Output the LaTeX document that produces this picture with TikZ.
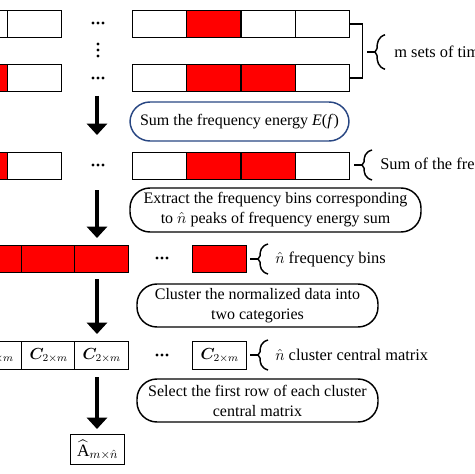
\documentclass[tikz,border=0pt]{standalone}
\usepackage{amsmath,amssymb,bm}
\usepackage{fontspec}
\setmainfont{Liberation Serif}
\usetikzlibrary{arrows.meta}
\definecolor{boxblue}{RGB}{40,70,130}
\definecolor{cellred}{RGB}{255,0,0}
\begin{document}
\begin{tikzpicture}[x=0.75pt,y=-0.75pt,
  cell/.style={draw=black,line width=1.1pt,minimum width=40.5pt,minimum height=20.25pt,inner sep=0pt,anchor=north west,font=\fontsize{12}{12}\selectfont},
  on/.style={cell,fill=cellred},
  off/.style={cell,fill=white},
  flowbox/.style={draw=black,line width=1.1pt,rounded corners=15pt,align=center,inner sep=0pt,font=\fontsize{12}{15}\selectfont},
  bigarrow/.style={line width=2.6pt,-{Triangle[width=15pt,length=8.5pt]}},
  lbl/.style={anchor=west,inner sep=0pt,font=\fontsize{12.3}{14}\selectfont},
  brk/.pic={\draw[line width=1.1pt] (0,0) -- (8,0);
            \draw[line width=1.1pt] (18,-15) .. controls (11,-13) and (10,-8) .. (10,-3) -- (8,0) -- (10,3) .. controls (10,8) and (11,13) .. (18,15);},
  hdots/.pic={\foreach \i in {-5,0,5} \fill (\i,0) circle[radius=1.6];},
  vdots/.pic={\foreach \i in {-6,0,6} \fill (0,\i) circle[radius=1.6];}
]
\useasboundingbox (0,0) rectangle (474,474);
\clip (0,0) rectangle (474,474);

% row 1
\node[off] (r1a) at (-47,10) {};
\node[off] (r1b) at (7,10) {};
\node[off] (r1c) at (132,10) {};
\node[on]  (r1d) at (186,10) {};
\node[off] (r1e) at (241,10) {};
\node[off] (r1f) at (295,10) {};
\pic at (98,23) {hdots};
\pic at (98,50) {vdots};

% row 2
\node[on]  (r2a) at (-47,64) {};
\node[off] (r2b) at (7,64) {};
\node[off] (r2c) at (132,64) {};
\node[on]  (r2d) at (186,64) {};
\node[on]  (r2e) at (241,64) {};
\node[off] (r2f) at (295,64) {};
\pic at (98,78) {hdots};

\draw[line width=1.1pt] (r1f.east) -- ++(12,0) |- (r2f.east);
\pic[yscale=1.15] at (367,52) {brk};
\node[lbl] (t1) at (394,52) {m sets of time};

% arrow 1 and sum box
\coordinate (a1s) at (97,96);
\coordinate (a1e) at (97,135);
\draw[bigarrow] (a1s) -- (a1e);
\node[flowbox,draw=boxblue,minimum width=164.25pt,minimum height=29.25pt] (b1) at (239.5,121.5) {Sum the frequency energy \textit{E}(\textit{f})};

% row 3
\node[on]  (r3a) at (-47,152) {};
\node[off] (r3b) at (7,152) {};
\node[off] (r3c) at (132,152) {};
\node[on]  (r3d) at (186,152) {};
\node[on]  (r3e) at (241,152) {};
\node[off] (r3f) at (295,152) {};
\pic at (98,165) {hdots};
\pic at (354,165) {brk};
\node[lbl] (t3) at (380,165) {Sum of the frequency};

% arrow 2 and extract box
\coordinate (a2s) at (97,190);
\coordinate (a2e) at (97,238);
\draw[bigarrow] (a2s) -- (a2e);
\node[flowbox,minimum width=218.25pt,minimum height=33pt] (b2) at (275.5,210) {Extract the frequency bins corresponding\\to $\hat{n}$ peaks of frequency energy sum};

% row 4
\node[on] (r4a) at (-33,245) {};
\node[on] (r4b) at (21,245) {};
\node[on] (r4c) at (74,245) {};
\node[on] (r4d) at (192,245) {};
\pic at (162,258) {hdots};
\pic at (250,259) {brk};
\node[lbl] (t4) at (275,259) {$\hat{n}$ frequency bins};

% arrow 3 and cluster box
\coordinate (a3s) at (97,279);
\coordinate (a3e) at (97,334);
\draw[bigarrow] (a3s) -- (a3e);
\node[flowbox,minimum width=180.75pt,minimum height=32.25pt] (b3) at (257.5,305.5) {Cluster the normalized data into\\two categories};

% row 5
\node[off,minimum height=21pt] (r5a) at (-33,341) {$\boldsymbol{C}_{2\times m}$};
\node[off,minimum height=21pt] (r5b) at (21,341) {$\boldsymbol{C}_{2\times m}$};
\node[off,minimum height=21pt] (r5c) at (74,341) {$\boldsymbol{C}_{2\times m}$};
\node[off,minimum height=21pt] (r5d) at (192,341) {$\boldsymbol{C}_{2\times m}$};
\pic at (162,355) {hdots};
\pic at (250,355) {brk};
\node[lbl] (t5) at (275,355) {$\hat{n}$ cluster central matrix};

% arrow 4 and select box
\coordinate (a4s) at (97,377);
\coordinate (a4e) at (97,429);
\draw[bigarrow] (a4s) -- (a4e);
\node[flowbox,minimum width=180.75pt,minimum height=32.25pt] (b4) at (257.5,400.5) {Select the first row of each cluster\\central matrix};

% final
\node[off,minimum height=22.5pt,font=\fontsize{13}{13}\selectfont] (fin) at (70,434) {$\widehat{\mathrm{A}}_{m\times\hat{n}}$};
\end{tikzpicture}
\end{document}
